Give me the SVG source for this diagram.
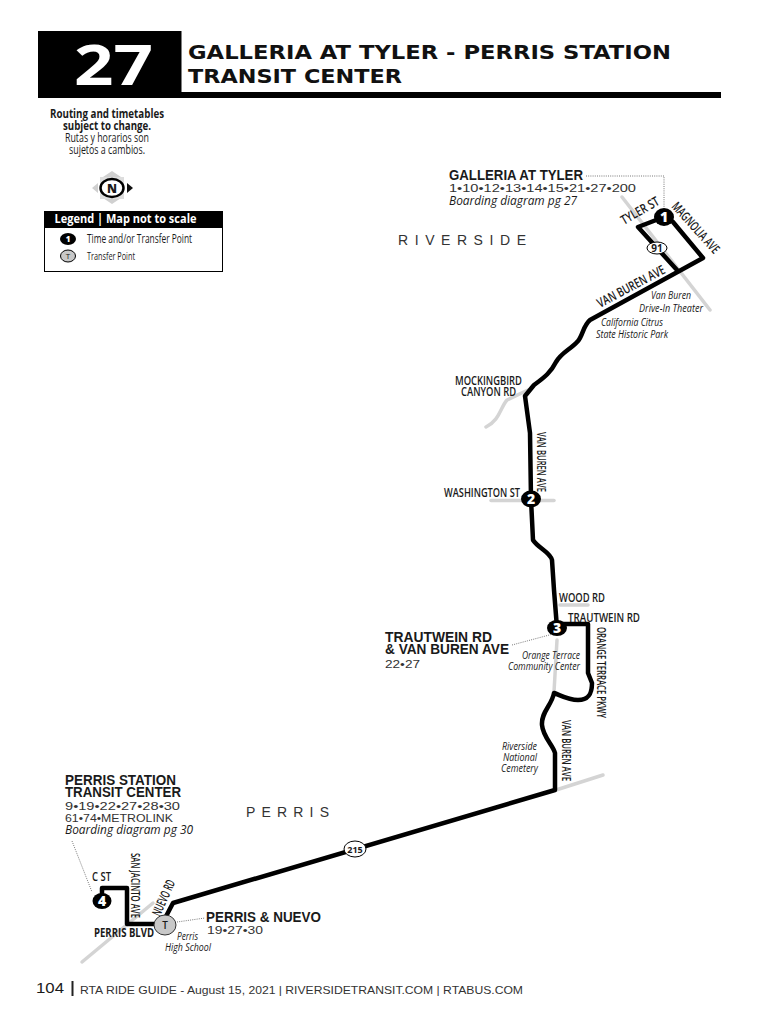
<svg xmlns="http://www.w3.org/2000/svg" width="768" height="1024" viewBox="0 0 768 1024">
<style>
text{font-family:"Open Sans","Liberation Sans",sans-serif;fill:#1a1a1a}
.s{font-size:13px;font-weight:600}
.i{font-size:11.5px;font-style:italic}
.h{font-family:"Liberation Sans",sans-serif;font-weight:700;font-size:14px}
.r{font-family:"Liberation Sans",sans-serif;font-size:11.5px;fill:#333}
.b{font-size:12.5px;font-style:italic}
.t{font-family:"DejaVu Sans",sans-serif;font-weight:700;font-size:19px;fill:#111}
.w{font-family:"Liberation Sans",sans-serif;font-size:14px;fill:#333}
.route{fill:none;stroke:#000;stroke-width:4.500;stroke-linejoin:round;stroke-linecap:round}
.road{fill:none;stroke:#d4d4d4;stroke-width:3.500;stroke-linecap:round;stroke-linejoin:round}
.dot{fill:none;stroke:#555;stroke-width:.8;stroke-dasharray:1 1.2}
.num{font-size:14px;font-weight:800;fill:#fff;text-anchor:middle}
</style>
<g id="header">
<rect x="38" y="31" width="143.500" height="67" fill="#000"/>
<rect x="38" y="92" width="683" height="6" fill="#000"/>
<text x="74" y="85" font-size="55" font-weight="700" style="fill:#fff" textLength="79" lengthAdjust="spacingAndGlyphs">27</text>
<text class="t" x="188" y="58.500" textLength="483" lengthAdjust="spacingAndGlyphs">GALLERIA AT TYLER - PERRIS STATION</text>
<text class="t" x="188" y="83" textLength="214" lengthAdjust="spacingAndGlyphs">TRANSIT CENTER</text>
</g>
<g id="notice" text-anchor="middle">
<text x="107" y="118" font-size="13" font-weight="700" textLength="114" lengthAdjust="spacingAndGlyphs">Routing and timetables</text>
<text x="107" y="130" font-size="13" font-weight="700" textLength="88" lengthAdjust="spacingAndGlyphs">subject to change.</text>
<text x="107" y="142" font-size="13" textLength="84" lengthAdjust="spacingAndGlyphs">Rutas y horarios son</text>
<text x="107" y="154" font-size="13" textLength="76" lengthAdjust="spacingAndGlyphs">sujetos a cambios.</text>
</g>
<g id="compass">
<path d="M112 171l9 6h-18zM112 204l9-6h-18zM92 188l6-5v10z" fill="#d0d0d0"/>
<path d="M100 177h24v22h-24z" fill="#ddd"/>
<path d="M127 183l6 5-6 5z" fill="#111"/>
<ellipse cx="112" cy="188" rx="11.500" ry="9" fill="#fff" stroke="#000" stroke-width="2.500"/>
<text x="112" y="192.500" font-size="12" font-weight="800" text-anchor="middle">N</text>
</g>
<g id="legend">
<rect x="44.500" y="211.500" width="178" height="60" fill="#fff" stroke="#000"/>
<rect x="44" y="211" width="179" height="17" fill="#000"/>
<text x="54.500" y="223" font-size="13" font-weight="700" style="fill:#fff" textLength="142" lengthAdjust="spacingAndGlyphs">Legend | Map not to scale</text>
<ellipse cx="68" cy="239" rx="8" ry="6" fill="#000"/>
<text x="68" y="242" font-size="8" font-weight="800" style="fill:#fff" text-anchor="middle">1</text>
<text x="87" y="243" font-size="12" textLength="105" lengthAdjust="spacingAndGlyphs">Time and/or Transfer Point</text>
<ellipse cx="68" cy="256" rx="7.500" ry="6" fill="#c8c8c8" stroke="#000"/>
<text x="68" y="259" font-size="8" text-anchor="middle">T</text>
<text x="87" y="259.500" font-size="10" textLength="48" lengthAdjust="spacingAndGlyphs">Transfer Point</text>
</g>
<g id="connectors">
<path class="road" d="M622 197L710 310"/>
<path class="road" d="M528 390L507 400C500 408 500 420 486 427"/>
<path class="road" d="M491 500.500H554"/>
<path class="road" d="M560 605H588"/>
<path class="road" d="M557 640L554 692"/>
<path class="road" d="M556 790L603 775"/>
<path class="road" d="M153 903L82 962"/>
<path class="route" d="M664 217L638 227L677 270M673 222L703 258L590 320C583 326 583 335 578 341C570 350 562 352 556 362C551 372 545 377 534 385L525 396L530 433L531 499L533 540C538 548 550 552 552 560L554 590L557 628"/>
<path class="route" d="M557 624H588V673L592 683C592 692 590 700 578 700C568 700 560 695 554 693C552 705 541 712 542 725C543 737 553 745 555 753V790L173 903L162 924H127V888H102V900"/>
<path class="dot" d="M586 176H664V208"/>
<path class="dot" d="M512 645L553 634"/>
<path class="dot" d="M72 841L92 892"/>
<path class="dot" d="M177 922L205 918"/>
</g>
<g id="shield-91"><ellipse cx="657" cy="248" rx="10" ry="6" fill="#fff" stroke="#000"/><text x="657" y="252" font-size="10" font-weight="700" text-anchor="middle">91</text></g>
<g id="shield-215"><ellipse cx="355" cy="849" rx="11" ry="8" fill="#fff" stroke="#000"/><text x="355" y="853" font-size="9" font-weight="700" text-anchor="middle">215</text></g>
<g id="node-1"><ellipse cx="664" cy="217" rx="10" ry="9" fill="#000"/><text class="num" x="664" y="222">1</text></g>
<g id="node-2"><ellipse cx="531" cy="499" rx="10" ry="8.500" fill="#000"/><text class="num" x="531" y="504">2</text></g>
<g id="node-3"><ellipse cx="557" cy="628" rx="10" ry="8" fill="#000"/><text class="num" x="557" y="633">3</text></g>
<g id="node-4"><ellipse cx="102" cy="901" rx="9.500" ry="8" fill="#000"/><text class="num" x="102" y="906">4</text></g>
<g id="node-t"><ellipse cx="165" cy="925" rx="11" ry="10" fill="#c8c8c8" stroke="#333"/><text x="165" y="929" font-size="10" font-weight="600" text-anchor="middle">T</text></g>
<g id="labels">
<text x="398" y="245" class="w" textLength="128">RIVERSIDE</text>
<text x="246" y="817" class="w" textLength="83">PERRIS</text>
<text class="h" x="449" y="179.500" textLength="134" lengthAdjust="spacingAndGlyphs">GALLERIA AT TYLER</text>
<text class="r" x="449" y="192" textLength="187" lengthAdjust="spacingAndGlyphs">1•10•12•13•14•15•21•27•200</text>
<text class="b" x="449" y="205" textLength="128" lengthAdjust="spacingAndGlyphs">Boarding diagram pg 27</text>
<text class="s" transform="translate(624 225) rotate(-30)" textLength="42" lengthAdjust="spacingAndGlyphs">TYLER ST</text>
<text class="s" transform="translate(671 207) rotate(48)" textLength="64" lengthAdjust="spacingAndGlyphs">MAGNOLIA AVE</text>
<text class="s" transform="translate(600 308) rotate(-28)" textLength="75" lengthAdjust="spacingAndGlyphs">VAN BUREN AVE</text>
<text class="i" x="651" y="299" textLength="40" lengthAdjust="spacingAndGlyphs">Van Buren</text>
<text class="i" x="639" y="312" textLength="64" lengthAdjust="spacingAndGlyphs">Drive-In Theater</text>
<text class="i" x="601" y="326" textLength="62" lengthAdjust="spacingAndGlyphs">California Citrus</text>
<text class="i" x="596" y="338" textLength="72" lengthAdjust="spacingAndGlyphs">State Historic Park</text>
<text class="s" x="455" y="385" textLength="67" lengthAdjust="spacingAndGlyphs">MOCKINGBIRD</text>
<text class="s" x="461" y="396" textLength="55" lengthAdjust="spacingAndGlyphs">CANYON RD</text>
<text class="s" transform="translate(537 432) rotate(90)" textLength="60" lengthAdjust="spacingAndGlyphs">VAN BUREN AVE</text>
<text class="s" x="444" y="497" textLength="76" lengthAdjust="spacingAndGlyphs">WASHINGTON ST</text>
<text class="s" x="559" y="602" textLength="46" lengthAdjust="spacingAndGlyphs">WOOD RD</text>
<text class="s" x="568" y="622" textLength="72" lengthAdjust="spacingAndGlyphs">TRAUTWEIN RD</text>
<text class="s" transform="translate(597 627) rotate(90)" textLength="91" lengthAdjust="spacingAndGlyphs">ORANGE TERRACE PKWY</text>
<text class="h" x="385" y="642" textLength="107" lengthAdjust="spacingAndGlyphs">TRAUTWEIN RD</text>
<text class="h" x="385" y="654" textLength="124" lengthAdjust="spacingAndGlyphs">&amp; VAN BUREN AVE</text>
<text class="r" x="385" y="668" textLength="35" lengthAdjust="spacingAndGlyphs">22•27</text>
<text class="i" x="522" y="659" textLength="58" lengthAdjust="spacingAndGlyphs">Orange Terrace</text>
<text class="i" x="508" y="670" textLength="72" lengthAdjust="spacingAndGlyphs">Community Center</text>
<text class="i" x="502" y="750" textLength="35" lengthAdjust="spacingAndGlyphs">Riverside</text>
<text class="i" x="503" y="761" textLength="34" lengthAdjust="spacingAndGlyphs">National</text>
<text class="i" x="501" y="772" textLength="37" lengthAdjust="spacingAndGlyphs">Cemetery</text>
<text class="s" transform="translate(562 720) rotate(90)" textLength="61" lengthAdjust="spacingAndGlyphs">VAN BUREN AVE</text>
<text class="h" x="65" y="785" textLength="111" lengthAdjust="spacingAndGlyphs">PERRIS STATION</text>
<text class="h" x="65" y="797" textLength="116" lengthAdjust="spacingAndGlyphs">TRANSIT CENTER</text>
<text class="r" x="65" y="810" textLength="115" lengthAdjust="spacingAndGlyphs">9•19•22•27•28•30</text>
<text class="r" x="65" y="822" textLength="108" lengthAdjust="spacingAndGlyphs">61•74•METROLINK</text>
<text class="b" x="65" y="834" textLength="128" lengthAdjust="spacingAndGlyphs">Boarding diagram pg 30</text>
<text class="s" x="92" y="881" textLength="19" lengthAdjust="spacingAndGlyphs">C ST</text>
<text class="s" transform="translate(131 853) rotate(90)" textLength="65" lengthAdjust="spacingAndGlyphs">SAN JACINTO AVE</text>
<text class="s" transform="translate(160 917) rotate(-66)" textLength="38" lengthAdjust="spacingAndGlyphs">NUEVO RD</text>
<text class="s" x="94" y="937" style="font-weight:700" textLength="60" lengthAdjust="spacingAndGlyphs">PERRIS BLVD</text>
<text class="h" x="206" y="922" textLength="115" lengthAdjust="spacingAndGlyphs">PERRIS &amp; NUEVO</text>
<text class="r" x="207" y="934" textLength="56" lengthAdjust="spacingAndGlyphs">19•27•30</text>
<text class="i" x="177" y="940" textLength="21" lengthAdjust="spacingAndGlyphs">Perris</text>
<text class="i" x="165" y="951" textLength="46" lengthAdjust="spacingAndGlyphs">High School</text>
</g>
<g id="footer">
<text x="36" y="993" font-size="15" style="font-family:'Liberation Sans',sans-serif" textLength="28" lengthAdjust="spacingAndGlyphs">104</text>
<rect x="71.500" y="981" width="2" height="15" fill="#222"/>
<text x="80" y="994" style="font-family:'Liberation Sans',sans-serif;fill:#333" font-size="11" textLength="443" lengthAdjust="spacingAndGlyphs">RTA RIDE GUIDE - August 15, 2021 | RIVERSIDETRANSIT.COM | RTABUS.COM</text>
</g>
</svg>
